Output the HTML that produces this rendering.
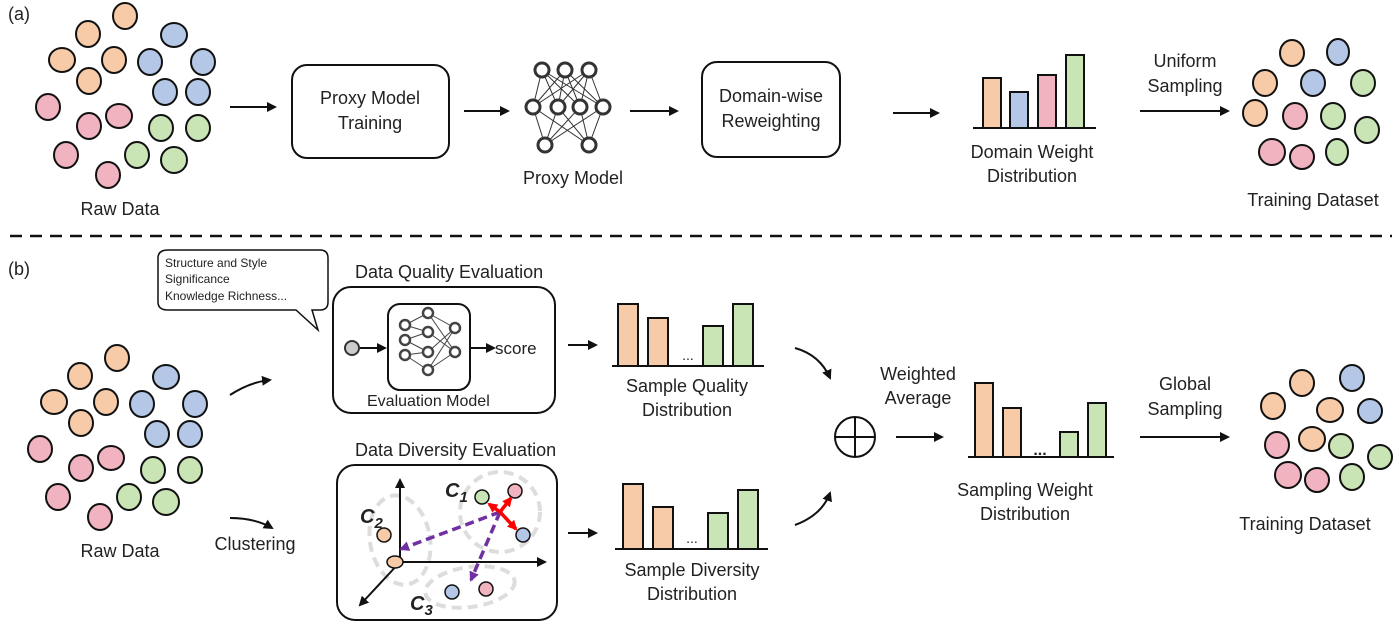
<!DOCTYPE html><html><head><style>body{margin:0;background:#fff}svg{display:block}text{font-family:"Liberation Sans",sans-serif;fill:#222}</style></head><body>
<svg width="1399" height="627" viewBox="0 0 1399 627" xmlns="http://www.w3.org/2000/svg">
<defs>
<marker id="ah" markerWidth="10" markerHeight="10" refX="8" refY="5" orient="auto" markerUnits="userSpaceOnUse"><path d="M0,0 L10,5 L0,10 z" fill="#111"/></marker>
<marker id="ap" markerWidth="10" markerHeight="10" refX="8" refY="5" orient="auto" markerUnits="userSpaceOnUse"><path d="M0,0 L10,5 L0,10 z" fill="#7030A0"/></marker>
<marker id="ar" markerWidth="10" markerHeight="10" refX="8" refY="5" orient="auto" markerUnits="userSpaceOnUse"><path d="M0,0 L10,5 L0,10 z" fill="#f00"/></marker>
<g id="raw" stroke="#111" stroke-width="2">
<ellipse cx="125" cy="16" rx="12" ry="13" fill="#F8CBA8"/><ellipse cx="88" cy="34" rx="12" ry="13" fill="#F8CBA8"/><ellipse cx="174" cy="35" rx="13" ry="12" fill="#B4C7E7"/>
<ellipse cx="62" cy="60" rx="13" ry="12" fill="#F8CBA8"/><ellipse cx="114" cy="60" rx="12" ry="13" fill="#F8CBA8"/><ellipse cx="150" cy="62" rx="12" ry="13" fill="#B4C7E7"/><ellipse cx="203" cy="62" rx="12" ry="13" fill="#B4C7E7"/>
<ellipse cx="89" cy="81" rx="12" ry="13" fill="#F8CBA8"/><ellipse cx="165" cy="92" rx="12" ry="13" fill="#B4C7E7"/><ellipse cx="198" cy="92" rx="12" ry="13" fill="#B4C7E7"/>
<ellipse cx="48" cy="107" rx="12" ry="13" fill="#F2B3C0"/><ellipse cx="89" cy="126" rx="12" ry="13" fill="#F2B3C0"/><ellipse cx="119" cy="116" rx="13" ry="12" fill="#F2B3C0"/><ellipse cx="161" cy="128" rx="12" ry="13" fill="#C9E5B5"/><ellipse cx="198" cy="128" rx="12" ry="13" fill="#C9E5B5"/>
<ellipse cx="66" cy="155" rx="12" ry="13" fill="#F2B3C0"/><ellipse cx="137" cy="155" rx="12" ry="13" fill="#C9E5B5"/><ellipse cx="174" cy="160" rx="13" ry="13" fill="#C9E5B5"/><ellipse cx="108" cy="175" rx="12" ry="13" fill="#F2B3C0"/>
</g>
</defs>
<text x="8" y="20" font-size="18">(a)</text>
<use href="#raw"/>
<text x="120" y="215" font-size="18" text-anchor="middle">Raw Data</text>
<line x1="230" y1="107" x2="275" y2="107" stroke="#111" stroke-width="2" marker-end="url(#ah)"/>
<rect x="292" y="65" width="157" height="93" rx="15" fill="none" stroke="#111" stroke-width="2"/>
<text x="370" y="104" font-size="18" text-anchor="middle">Proxy Model</text><text x="370" y="129" font-size="18" text-anchor="middle">Training</text>
<line x1="464" y1="111" x2="508" y2="111" stroke="#111" stroke-width="2" marker-end="url(#ah)"/>
<g stroke="#333" stroke-width="3" fill="#fff">
<path d="M542 70L533 107M542 70L558 107M542 70L580 107M542 70L603 107M565 70L533 107M565 70L558 107M565 70L580 107M565 70L603 107M589 70L533 107M589 70L558 107M589 70L580 107M589 70L603 107M533 107L545 145M533 107L589 145M558 107L545 145M558 107L589 145M580 107L545 145M580 107L589 145M603 107L545 145M603 107L589 145" stroke-width="1"/>
<circle cx="542" cy="70" r="7"/><circle cx="565" cy="70" r="7"/><circle cx="589" cy="70" r="7"/>
<circle cx="533" cy="107" r="7"/><circle cx="558" cy="107" r="7"/><circle cx="580" cy="107" r="7"/><circle cx="603" cy="107" r="7"/>
<circle cx="545" cy="145" r="7"/><circle cx="589" cy="145" r="7"/></g>
<text x="573" y="184" font-size="18" text-anchor="middle">Proxy Model</text>
<line x1="630" y1="111" x2="677" y2="111" stroke="#111" stroke-width="2" marker-end="url(#ah)"/>
<rect x="702" y="62" width="138" height="95" rx="15" fill="none" stroke="#111" stroke-width="2"/>
<text x="771" y="102" font-size="18" text-anchor="middle">Domain-wise</text><text x="771" y="127" font-size="18" text-anchor="middle">Reweighting</text>
<line x1="893" y1="113" x2="938" y2="113" stroke="#111" stroke-width="2" marker-end="url(#ah)"/>
<g stroke="#111" stroke-width="2"><rect x="983" y="78" width="18" height="50" fill="#F8CBA8"/><rect x="1010" y="92" width="18" height="36" fill="#B4C7E7"/><rect x="1038" y="75" width="18" height="53" fill="#F2B3C0"/><rect x="1066" y="55" width="18" height="73" fill="#C9E5B5"/><line x1="973" y1="128" x2="1096" y2="128"/></g>
<text x="1032" y="158" font-size="18" text-anchor="middle">Domain Weight</text><text x="1032" y="182" font-size="18" text-anchor="middle">Distribution</text>
<text x="1185" y="67" font-size="18" text-anchor="middle">Uniform</text><text x="1185" y="92" font-size="18" text-anchor="middle">Sampling</text>
<line x1="1140" y1="111" x2="1228" y2="111" stroke="#111" stroke-width="2" marker-end="url(#ah)"/>
<g stroke="#111" stroke-width="2">
<ellipse cx="1292" cy="53" rx="12" ry="13" fill="#F8CBA8"/><ellipse cx="1338" cy="52" rx="11" ry="13" fill="#B4C7E7"/><ellipse cx="1265" cy="83" rx="12" ry="13" fill="#F8CBA8"/><ellipse cx="1313" cy="83" rx="12" ry="13" fill="#B4C7E7"/><ellipse cx="1363" cy="83" rx="12" ry="13" fill="#C9E5B5"/>
<ellipse cx="1255" cy="113" rx="12" ry="13" fill="#F8CBA8"/><ellipse cx="1295" cy="116" rx="12" ry="13" fill="#F2B3C0"/><ellipse cx="1333" cy="116" rx="12" ry="13" fill="#C9E5B5"/><ellipse cx="1367" cy="130" rx="12" ry="13" fill="#C9E5B5"/>
<ellipse cx="1272" cy="152" rx="13" ry="13" fill="#F2B3C0"/><ellipse cx="1302" cy="157" rx="12" ry="12" fill="#F2B3C0"/><ellipse cx="1337" cy="152" rx="11" ry="13" fill="#C9E5B5"/>
</g>
<text x="1313" y="206" font-size="18" text-anchor="middle">Training Dataset</text>
<line x1="10" y1="236" x2="1392" y2="236" stroke="#111" stroke-width="2.5" stroke-dasharray="12,8"/>
<text x="8" y="275" font-size="18">(b)</text>
<use href="#raw" transform="translate(-8,342)"/>
<text x="120" y="557" font-size="18" text-anchor="middle">Raw Data</text>
<path d="M230 395 Q250 382 270 380" fill="none" stroke="#111" stroke-width="2" marker-end="url(#ah)"/>
<path d="M230 518 Q255 518 272 528" fill="none" stroke="#111" stroke-width="2" marker-end="url(#ah)"/>
<text x="255" y="550" font-size="18" text-anchor="middle">Clustering</text>
<path d="M168 250 H320 Q328 250 328 258 V302 Q328 310 320 310 H312 L318 330 L296 310 H168 Q158 310 158 302 V258 Q158 250 168 250 Z" fill="#fff" stroke="#111" stroke-width="1.5"/>
<text x="165" y="267" font-size="12">Structure and Style</text><text x="165" y="283" font-size="12">Significance</text><text x="165" y="300" font-size="12">Knowledge Richness...</text>
<text x="355" y="278" font-size="18">Data Quality Evaluation</text>
<rect x="333" y="287" width="222" height="126" rx="18" fill="none" stroke="#111" stroke-width="2"/>
<rect x="388" y="304" width="82" height="86" rx="12" fill="none" stroke="#111" stroke-width="2"/>
<g stroke="#444" fill="#fff" stroke-width="2.5"><path d="M405 325L428 313M405 325L428 332M405 340L428 352M405 355L428 370M428 313L455 328M428 332L455 352M428 352L455 328M428 370L455 352M405 340L428 332M405 355L428 352M428 313L455 352M428 370L455 328" stroke-width="1"/>
<circle cx="405" cy="325" r="5"/><circle cx="405" cy="340" r="5"/><circle cx="405" cy="355" r="5"/><circle cx="428" cy="313" r="5"/><circle cx="428" cy="332" r="5"/><circle cx="428" cy="352" r="5"/><circle cx="428" cy="370" r="5"/><circle cx="455" cy="328" r="5"/><circle cx="455" cy="352" r="5"/></g>
<circle cx="352" cy="348" r="7" fill="#ccc" stroke="#333" stroke-width="2"/>
<line x1="360" y1="348" x2="385" y2="348" stroke="#111" stroke-width="2" marker-end="url(#ah)"/>
<line x1="471" y1="348" x2="494" y2="348" stroke="#111" stroke-width="2" marker-end="url(#ah)"/>
<text x="495" y="354" font-size="17">score</text>
<text x="367" y="406" font-size="16">Evaluation Model</text>
<line x1="568" y1="345" x2="596" y2="345" stroke="#111" stroke-width="2" marker-end="url(#ah)"/>
<g stroke="#111" stroke-width="2"><rect x="618" y="304" width="20" height="62" fill="#F8CBA8"/><rect x="648" y="318" width="20" height="48" fill="#F8CBA8"/><rect x="703" y="326" width="20" height="40" fill="#C9E5B5"/><rect x="733" y="304" width="20" height="62" fill="#C9E5B5"/><line x1="612" y1="366" x2="764" y2="366"/></g>
<text x="688" y="360" font-size="14" text-anchor="middle">...</text>
<text x="687" y="392" font-size="18" text-anchor="middle">Sample Quality</text><text x="687" y="416" font-size="18" text-anchor="middle">Distribution</text>
<text x="355" y="456" font-size="18">Data Diversity Evaluation</text>
<rect x="337" y="465" width="220" height="155" rx="18" fill="none" stroke="#111" stroke-width="2"/>
<g fill="none" stroke="#ddd" stroke-width="4" stroke-dasharray="10,6"><ellipse cx="400" cy="540" rx="30" ry="45" transform="rotate(-10 400 540)"/><ellipse cx="500" cy="512" rx="40" ry="40"/><ellipse cx="470" cy="587" rx="45" ry="20" transform="rotate(-8 470 587)"/></g>
<line x1="400" y1="562" x2="400" y2="480" stroke="#111" stroke-width="2" marker-end="url(#ah)"/>
<line x1="400" y1="562" x2="545" y2="562" stroke="#111" stroke-width="2" marker-end="url(#ah)"/>
<line x1="400" y1="562" x2="360" y2="605" stroke="#111" stroke-width="2" marker-end="url(#ah)"/>
<g stroke="#111" stroke-width="1.5"><ellipse cx="384" cy="535" rx="7" ry="7" fill="#F8CBA8"/><ellipse cx="395" cy="562" rx="8" ry="6" fill="#F8CBA8"/><circle cx="482" cy="497" r="7" fill="#C9E5B5"/><circle cx="515" cy="491" r="7" fill="#F2B3C0"/><circle cx="523" cy="535" r="7" fill="#B4C7E7"/><circle cx="452" cy="592" r="7" fill="#B4C7E7"/><circle cx="486" cy="589" r="7" fill="#F2B3C0"/></g>
<g stroke-width="3.5" fill="none"><line x1="500" y1="512" x2="401" y2="549" stroke="#7030A0" stroke-dasharray="9,5" marker-end="url(#ap)"/><line x1="500" y1="512" x2="471" y2="580" stroke="#7030A0" stroke-dasharray="9,5" marker-end="url(#ap)"/>
<line x1="500" y1="512" x2="489" y2="504" stroke="#f00" marker-end="url(#ar)"/><line x1="500" y1="512" x2="511" y2="498" stroke="#f00" marker-end="url(#ar)"/><line x1="500" y1="512" x2="516" y2="529" stroke="#f00" marker-end="url(#ar)"/></g>
<text x="445" y="497" font-size="20" font-style="italic" font-weight="bold" font-family="Liberation Serif">C<tspan font-size="15" dy="5">1</tspan></text>
<text x="360" y="523" font-size="20" font-style="italic" font-weight="bold" font-family="Liberation Serif">C<tspan font-size="15" dy="5">2</tspan></text>
<text x="410" y="610" font-size="20" font-style="italic" font-weight="bold" font-family="Liberation Serif">C<tspan font-size="15" dy="5">3</tspan></text>
<line x1="568" y1="533" x2="596" y2="533" stroke="#111" stroke-width="2" marker-end="url(#ah)"/>
<g stroke="#111" stroke-width="2"><rect x="623" y="484" width="20" height="65" fill="#F8CBA8"/><rect x="653" y="507" width="20" height="42" fill="#F8CBA8"/><rect x="708" y="513" width="20" height="36" fill="#C9E5B5"/><rect x="738" y="490" width="20" height="59" fill="#C9E5B5"/><line x1="615" y1="549" x2="768" y2="549"/></g>
<text x="692" y="543" font-size="14" text-anchor="middle">...</text>
<text x="692" y="576" font-size="18" text-anchor="middle">Sample Diversity</text><text x="692" y="600" font-size="18" text-anchor="middle">Distribution</text>
<path d="M795 348 Q820 355 830 378" fill="none" stroke="#111" stroke-width="2" marker-end="url(#ah)"/>
<path d="M795 525 Q822 515 830 493" fill="none" stroke="#111" stroke-width="2" marker-end="url(#ah)"/>
<circle cx="855" cy="437" r="20" fill="none" stroke="#111" stroke-width="2"/><line x1="835" y1="437" x2="875" y2="437" stroke="#111" stroke-width="2"/><line x1="855" y1="417" x2="855" y2="457" stroke="#111" stroke-width="2"/>
<text x="918" y="380" font-size="18" text-anchor="middle">Weighted</text><text x="918" y="404" font-size="18" text-anchor="middle">Average</text>
<line x1="896" y1="437" x2="942" y2="437" stroke="#111" stroke-width="2" marker-end="url(#ah)"/>
<g stroke="#111" stroke-width="2"><rect x="975" y="383" width="18" height="74" fill="#F8CBA8"/><rect x="1003" y="408" width="18" height="49" fill="#F8CBA8"/><rect x="1060" y="432" width="18" height="25" fill="#C9E5B5"/><rect x="1088" y="403" width="18" height="54" fill="#C9E5B5"/><line x1="968" y1="457" x2="1114" y2="457"/></g>
<text x="1040" y="455" font-size="16" font-weight="bold" text-anchor="middle">...</text>
<text x="1025" y="496" font-size="18" text-anchor="middle">Sampling Weight</text><text x="1025" y="520" font-size="18" text-anchor="middle">Distribution</text>
<text x="1185" y="390" font-size="18" text-anchor="middle">Global</text><text x="1185" y="415" font-size="18" text-anchor="middle">Sampling</text>
<line x1="1140" y1="437" x2="1228" y2="437" stroke="#111" stroke-width="2" marker-end="url(#ah)"/>
<g stroke="#111" stroke-width="2">
<ellipse cx="1302" cy="383" rx="12" ry="13" fill="#F8CBA8"/><ellipse cx="1352" cy="378" rx="12" ry="13" fill="#B4C7E7"/><ellipse cx="1273" cy="406" rx="12" ry="13" fill="#F8CBA8"/><ellipse cx="1330" cy="410" rx="13" ry="12" fill="#F8CBA8"/><ellipse cx="1370" cy="411" rx="12" ry="12" fill="#B4C7E7"/>
<ellipse cx="1277" cy="445" rx="12" ry="13" fill="#F2B3C0"/><ellipse cx="1312" cy="439" rx="13" ry="12" fill="#F8CBA8"/><ellipse cx="1341" cy="446" rx="12" ry="12" fill="#C9E5B5"/><ellipse cx="1380" cy="457" rx="12" ry="12" fill="#C9E5B5"/>
<ellipse cx="1288" cy="475" rx="13" ry="13" fill="#F2B3C0"/><ellipse cx="1317" cy="480" rx="12" ry="12" fill="#F2B3C0"/><ellipse cx="1352" cy="477" rx="12" ry="13" fill="#C9E5B5"/>
</g>
<text x="1305" y="530" font-size="18" text-anchor="middle">Training Dataset</text>
</svg>
</body></html>
